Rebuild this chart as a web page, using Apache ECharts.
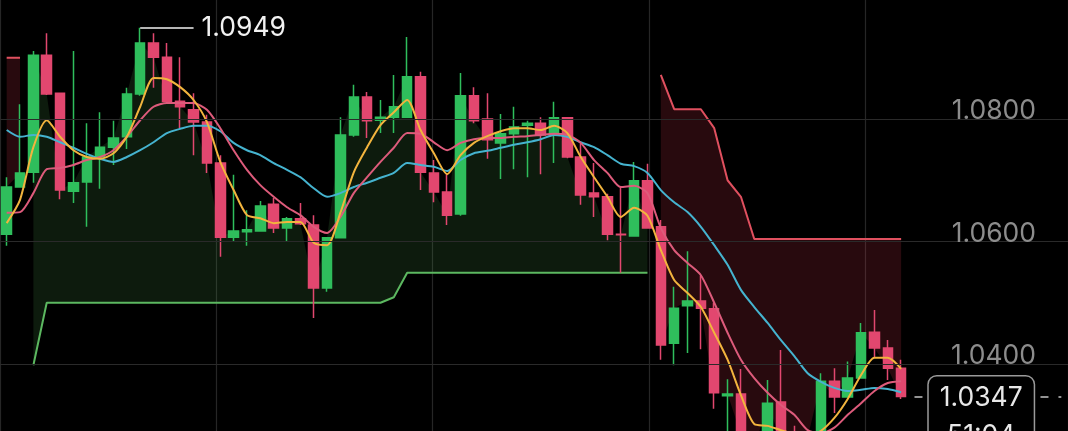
<!DOCTYPE html>
<html>
<head>
<meta charset="utf-8">
<title>EUR/USD</title>
<script src="https://cdn.jsdelivr.net/npm/echarts@6.0.0/dist/echarts.min.js"></script>
<style>
html, body { margin: 0; padding: 0; background: #000; }
#chart { width: 1068px; height: 431px; }
</style>
</head>
<body>
<div id="chart"></div>
<script>
// candles: [open, close, low, high]
var candles = [
    [1.0612, 1.0689, 1.0593, 1.0705], [1.0689, 1.0712, 1.0688, 1.0824], [1.0713, 1.0904, 1.0696, 1.0911],
    [1.0904, 1.0841, 1.0839, 1.0940], [1.0842, 1.0684, 1.0669, 1.0843], [1.0682, 1.0696, 1.0663, 1.0911],
    [1.0697, 1.0738, 1.0624, 1.0793], [1.0738, 1.0754, 1.0686, 1.0811], [1.0754, 1.0769, 1.0725, 1.0797],
    [1.0771, 1.0841, 1.0751, 1.0851], [1.0841, 1.0924, 1.0838, 1.0949], [1.0924, 1.0901, 1.0851, 1.0940],
    [1.0901, 1.0829, 1.0828, 1.0924], [1.0829, 1.0820, 1.0785, 1.0901], [1.0815, 1.0795, 1.0741, 1.0842],
    [1.0795, 1.0728, 1.0712, 1.0807], [1.0728, 1.0607, 1.0575, 1.0741], [1.0607, 1.0617, 1.0599, 1.0709],
    [1.0616, 1.0619, 1.0593, 1.0651], [1.0617, 1.0658, 1.0616, 1.0666], [1.0661, 1.0622, 1.0614, 1.0671],
    [1.0622, 1.0637, 1.0601, 1.0640], [1.0637, 1.0629, 1.0627, 1.0663], [1.0627, 1.0524, 1.0475, 1.0643],
    [1.0524, 1.0606, 1.0518, 1.0606], [1.0606, 1.0774, 1.0605, 1.0803], [1.0774, 1.0836, 1.0771, 1.0856],
    [1.0836, 1.0797, 1.0769, 1.0844], [1.0798, 1.0803, 1.0777, 1.0831], [1.0803, 1.0820, 1.0777, 1.0872],
    [1.0803, 1.0869, 1.0802, 1.0934], [1.0869, 1.0713, 1.0684, 1.0877], [1.0712, 1.0681, 1.0664, 1.0733],
    [1.0681, 1.0643, 1.0627, 1.0712], [1.0645, 1.0838, 1.0642, 1.0875], [1.0838, 1.0797, 1.0793, 1.0852],
    [1.0800, 1.0766, 1.0735, 1.0842], [1.0761, 1.0776, 1.0702, 1.0808], [1.0776, 1.0787, 1.0718, 1.0820],
    [1.0790, 1.0793, 1.0705, 1.0797], [1.0793, 1.0774, 1.0710, 1.0803], [1.0774, 1.0802, 1.0728, 1.0828],
    [1.0802, 1.0738, 1.0736, 1.0803], [1.0738, 1.0676, 1.0660, 1.0761], [1.0679, 1.0673, 1.0640, 1.0728],
    [1.0673, 1.0612, 1.0602, 1.0678], [1.0612, 1.0611, 1.0549, 1.0689], [1.0609, 1.0699, 1.0609, 1.0730],
    [1.0699, 1.0622, 1.0622, 1.0727], [1.0624, 1.0431, 1.0407, 1.0635], [1.0434, 1.0491, 1.0398, 1.0526],
    [1.0495, 1.0503, 1.0418, 1.0584], [1.0503, 1.0491, 1.0424, 1.0544], [1.0490, 1.0353, 1.0327, 1.0500],
    [1.0348, 1.0351, 1.0285, 1.0375], [1.0351, 1.0285, 1.0270, 1.0392], [1.0285, 1.0262, 1.0250, 1.0288],
    [1.0265, 1.0336, 1.0258, 1.0374], [1.0338, 1.0275, 1.0262, 1.0423], [1.0278, 1.0268, 1.0252, 1.0299],
    [1.0266, 1.0280, 1.0255, 1.0288], [1.0280, 1.0372, 1.0272, 1.0385], [1.0372, 1.0346, 1.0320, 1.0393],
    [1.0346, 1.0377, 1.0345, 1.0404], [1.0377, 1.0451, 1.0376, 1.0467], [1.0452, 1.0426, 1.0411, 1.0488],
    [1.0426, 1.0393, 1.0374, 1.0439], [1.0393, 1.0347, 1.0343, 1.0407]
];

// moving averages
var maFast = [
    1.0630, 1.0668, 1.0754, 1.0798, 1.0771, 1.0749, 1.0738, 1.0735, 1.0744, 1.0771,
    1.0820, 1.0867, 1.0865, 1.0852, 1.0831, 1.0795, 1.0730, 1.0684, 1.0643, 1.0638,
    1.0630, 1.0632, 1.0632, 1.0598, 1.0594, 1.0647, 1.0713, 1.0754, 1.0790, 1.0811,
    1.0831, 1.0782, 1.0744, 1.0710, 1.0741, 1.0761, 1.0772, 1.0780, 1.0785, 1.0785,
    1.0782, 1.0789, 1.0777, 1.0738, 1.0705, 1.0673, 1.0640, 1.0655, 1.0642, 1.0586,
    1.0537, 1.0516, 1.0493, 1.0451, 1.0407, 1.0349, 1.0302, 1.0299, 1.0292, 1.0286,
    1.0282, 1.0291, 1.0312, 1.0343, 1.0382, 1.0410, 1.0410, 1.0392
];
var maMid = [
    1.0647, 1.0648, 1.0679, 1.0718, 1.0720, 1.0725, 1.0733, 1.0738, 1.0749, 1.0771,
    1.0798, 1.0820, 1.0826, 1.0826, 1.0826, 1.0815, 1.0785, 1.0749, 1.0717, 1.0692,
    1.0673, 1.0656, 1.0643, 1.0624, 1.0614, 1.0640, 1.0679, 1.0705, 1.0730, 1.0753,
    1.0777, 1.0776, 1.0762, 1.0749, 1.0761, 1.0767, 1.0769, 1.0769, 1.0771, 1.0772,
    1.0774, 1.0776, 1.0774, 1.0761, 1.0733, 1.0712, 1.0689, 1.0691, 1.0679, 1.0622,
    1.0586, 1.0565, 1.0545, 1.0500, 1.0451, 1.0407, 1.0377, 1.0353, 1.0333, 1.0317,
    1.0292, 1.0287, 1.0296, 1.0317, 1.0336, 1.0356, 1.0369, 1.0372
];
var maSlow = [
    1.0782, 1.0771, 1.0774, 1.0771, 1.0762, 1.0753, 1.0743, 1.0735, 1.0730, 1.0738,
    1.0749, 1.0762, 1.0777, 1.0784, 1.0789, 1.0789, 1.0780, 1.0761, 1.0749, 1.0741,
    1.0728, 1.0717, 1.0705, 1.0687, 1.0673, 1.0679, 1.0689, 1.0696, 1.0704, 1.0712,
    1.0728, 1.0725, 1.0722, 1.0715, 1.0733, 1.0744, 1.0748, 1.0753, 1.0758, 1.0762,
    1.0767, 1.0774, 1.0771, 1.0762, 1.0754, 1.0741, 1.0727, 1.0723, 1.0712, 1.0684,
    1.0664, 1.0648, 1.0624, 1.0594, 1.0562, 1.0521, 1.0493, 1.0467, 1.0439, 1.0413,
    1.0385, 1.0371, 1.0361, 1.0356, 1.0358, 1.0361, 1.0359, 1.0354
];

// trend stop lines (null where the band is not active)
var stopUpper = [
    1.0900, 1.0900, null, null, null, null, null, null, null, null,
    null, null, null, null, null, null, null, null, null, null,
    null, null, null, null, null, null, null, null, null, null,
    null, null, null, null, null, null, null, null, null, null,
    null, null, null, null, null, null, null, null, null, 1.0872,
    1.0816, 1.0816, 1.0816, 1.0785, 1.0700, 1.0673, 1.0604, 1.0604, 1.0604, 1.0604,
    1.0604, 1.0604, 1.0604, 1.0604, 1.0604, 1.0604, 1.0604, 1.0604
];
var stopLower = [
    null, null, 1.0398, 1.0500, 1.0500, 1.0500, 1.0500, 1.0500, 1.0500, 1.0500,
    1.0500, 1.0500, 1.0500, 1.0500, 1.0500, 1.0500, 1.0500, 1.0500, 1.0500, 1.0500,
    1.0500, 1.0500, 1.0500, 1.0500, 1.0500, 1.0500, 1.0500, 1.0500, 1.0500, 1.0509,
    1.0549, 1.0549, 1.0549, 1.0549, 1.0549, 1.0549, 1.0549, 1.0549, 1.0549, 1.0549,
    1.0549, 1.0549, 1.0549, 1.0549, 1.0549, 1.0549, 1.0549, 1.0549, 1.0549, null,
    null, null, null, null, null, null, null, null, null, null,
    null, null, null, null, null, null, null, null
];

var priceTicks = [1.04, 1.06, 1.08];
var highPrice = 1.0949;
var highIndex = 10;
var lastPrice = 1.0347;
var countdown = '51:04';
var slotCount = 80;

var UP = '#2fbe5c', DOWN = '#e2476f';
var FONT = 'Inter, Roboto, sans-serif';

var categories = [];
for (var i = 0; i < slotCount; i++) categories.push(String(i));

var closes = candles.map(function (c) { return c[1]; });
var lowerBase = stopLower.map(function (v) { return v == null ? '-' : v; });
var lowerFill = stopLower.map(function (v, i) { return v == null ? '-' : +(closes[i] - v).toFixed(4); });
var upperBase = stopUpper.map(function (v, i) { return v == null ? '-' : closes[i]; });
var upperFill = stopUpper.map(function (v, i) { return v == null ? '-' : +(v - closes[i]).toFixed(4); });
var upperLine = stopUpper.map(function (v) { return v == null ? '-' : v; });

var gridLines = priceTicks.map(function (p) {
    return { yAxis: p, label: { formatter: p.toFixed(4) } };
});

var dom = document.getElementById('chart');
var myChart = echarts.init(dom);
var option = {
    backgroundColor: '#000',
    animation: false,
    grid: { left: 0, right: 0, top: 0, bottom: 0 },
    xAxis: [
        { type: 'category', data: categories, boundaryGap: true, show: false },
        {
            type: 'value', min: 0, max: 1068, interval: 216.3,
            axisLine: { show: false }, axisTick: { show: false }, axisLabel: { show: false },
            splitLine: { show: true, lineStyle: { color: '#262626', width: 1.2 } }
        }
    ],
    yAxis: { type: 'value', min: 1.02906, max: 1.09943, show: false },
    series: [
        {
            // horizontal price grid with labels
            type: 'line', data: [], z: 0, silent: true,
            markLine: {
                silent: true, symbol: ['none', 'none'],
                lineStyle: { color: '#2a2a2a', width: 1.2, type: 'solid' },
                label: {
                    show: true, position: 'insideEndTop', distance: [32, -6],
                    color: '#8c8c8c', fontSize: 26.5, fontFamily: FONT
                },
                data: gridLines
            }
        },
        {
            type: 'line', stack: 'lower', data: lowerBase, z: 1, symbol: 'none',
            lineStyle: { color: '#5cb860', width: 2 }
        },
        {
            type: 'line', stack: 'lower', data: lowerFill, z: 1, symbol: 'none',
            lineStyle: { width: 0, opacity: 0 },
            areaStyle: { color: 'rgba(70,150,70,0.18)', opacity: 1 }
        },
        {
            type: 'line', stack: 'upper', data: upperBase, z: 1, symbol: 'none',
            lineStyle: { width: 0, opacity: 0 }
        },
        {
            type: 'line', stack: 'upper', data: upperFill, z: 1, symbol: 'none',
            lineStyle: { width: 0, opacity: 0 },
            areaStyle: { color: 'rgba(200,50,70,0.2)', opacity: 1 }
        },
        {
            type: 'line', data: upperLine, z: 1, symbol: 'none',
            lineStyle: { color: '#e0505f', width: 2 }
        },
        {
            type: 'candlestick', data: candles, z: 3, barWidth: 10,
            itemStyle: { color: UP, color0: DOWN, borderColor: UP, borderColor0: DOWN, borderWidth: 1.5 },
            markLine: {
                silent: true, symbol: ['none', 'none'],
                data: [
                    [
                        {
                            coord: [String(highIndex), highPrice],
                            lineStyle: { color: '#f2f2f2', width: 1.5, type: 'solid' },
                            label: {
                                show: true, position: 'end', distance: 8, formatter: highPrice.toFixed(4),
                                color: '#f2f2f2', fontSize: 26.5, fontFamily: FONT
                            }
                        },
                        { coord: [String(highIndex + 4), highPrice] }
                    ],
                    [
                        {
                            coord: [String(candles.length), lastPrice],
                            lineStyle: { color: '#c4c4c4', width: 1.5, type: [8, 10] },
                            label: { show: false }
                        },
                        { coord: [String(slotCount - 1), lastPrice] }
                    ]
                ]
            }
        },
        { type: 'line', data: maSlow, z: 4, symbol: 'none', smooth: 0.25, lineStyle: { color: '#45b3cf', width: 2 } },
        { type: 'line', data: maMid, z: 4, symbol: 'none', smooth: 0.25, lineStyle: { color: '#dd5b7b', width: 2 } },
        { type: 'line', data: maFast, z: 4, symbol: 'none', smooth: 0.25, lineStyle: { color: '#f2b43e', width: 2 } },
        {
            // last price tag
            type: 'line', data: [], z: 10, silent: true,
            markPoint: {
                silent: true, symbol: 'rect', symbolSize: 1,
                itemStyle: { color: 'rgba(0,0,0,0)' },
                label: {
                    show: true, position: 'inside', offset: [0, 21],
                    formatter: lastPrice.toFixed(4) + '\n' + countdown,
                    backgroundColor: '#000', borderColor: '#9a9a9a', borderWidth: 1.5, borderRadius: 8,
                    padding: [3, 11, 3, 11], color: '#e8e8e8', fontSize: 26.5, lineHeight: 38, fontFamily: FONT
                },
                data: [{ coord: [String(slotCount - 7), lastPrice] }]
            }
        }
    ]
};
myChart.setOption(option, true);
</script>
</body>
</html>
